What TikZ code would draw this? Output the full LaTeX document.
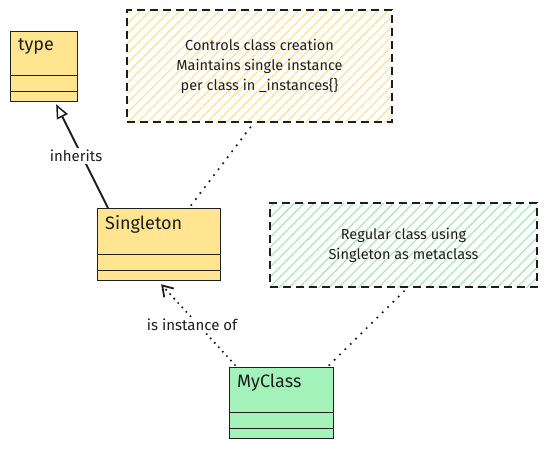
\documentclass[tikz,border=0pt]{standalone}
\usepackage{fontspec}
\setmainfont{Fira Sans}
\usepackage{xcolor}
\definecolor{cInk}{HTML}{1E1E1E}
\definecolor{cYellow}{HTML}{FFE590}
\definecolor{cGreen}{HTML}{A2F2B9}
\definecolor{cHatchY}{HTML}{FDE28A}
\definecolor{cHatchG}{HTML}{9CEBB2}
\usepackage{tikz}
\usetikzlibrary{positioning,arrows.meta,calc,patterns.meta}
\tikzset{
  node-class/.style={draw=cInk,line width=1.3pt,rectangle,anchor=north west,
    inner sep=0pt},
  node-class-core/.style={fill=cYellow},
  node-class-user/.style={fill=cGreen},
  class-name/.style={label={[anchor=north west,inner sep=0pt,label distance=0pt,
    xshift=8pt,yshift=-7pt,font=\fontsize{18}{20}\selectfont,text=cInk]north west:#1}},
  node-note/.style={draw=cInk,line width=1.6pt,dash pattern=on 8pt off 5pt,
    minimum width=265pt,align=center,text=cInk,
    font=\fontsize{14.5}{20}\selectfont},
  node-note-core/.style={pattern={Lines[angle=45,distance=7pt,line width=1.1pt]},
    pattern color=cHatchY},
  node-note-user/.style={pattern={Lines[angle=45,distance=7pt,line width=1.1pt]},
    pattern color=cHatchG},
  compartment/.style={draw=cInk,line width=1pt},
  edge-label/.style={fill=white,inner sep=2pt,text=cInk,
    font=\fontsize{15}{16}\selectfont},
  arrow-inherit/.style={-{Triangle[open,length=14pt,width=12pt,line width=1.5pt]},
    line width=2pt,draw=cInk},
  arrow-instance/.style={-{Straight Barb[length=10pt,width=13pt,line width=1.8pt]},
    line width=2.3pt,dash pattern=on 0pt off 6pt,line cap=round,draw=cInk},
  link-note/.style={line width=2.4pt,dash pattern=on 0pt off 7.5pt,line cap=round,
    draw=cInk},
}
\begin{document}
\begin{tikzpicture}[x=1pt,y=-1pt]
  \useasboundingbox[fill=white] (0,0) rectangle (547,448);
  % notes
  \node[node-note,node-note-core,minimum width=265pt,minimum height=112pt]
    (note-meta) at (259.5,66)
    {Controls class creation\\Maintains single instance\\per class in \_instances\{\}};
  \node[node-note,node-note-user,minimum width=267pt,minimum height=84pt]
    (note-user) at (403.5,245)
    {Regular class using\\Singleton as metaclass};
  % classes
  \node[node-class,node-class-core,minimum width=67pt,minimum height=70pt,
    class-name=type] (type) at (10,31) {};
  \node[node-class,node-class-core,minimum width=123pt,minimum height=72pt,
    class-name=Singleton] (singleton) at (97,208) {};
  \node[node-class,node-class-user,minimum width=104pt,minimum height=71pt,
    class-name=MyClass] (myclass) at (229,367) {};
  \foreach \c in {type,singleton,myclass} {
    \draw[compartment] ([yshift=11pt]\c.south west) -- ([yshift=11pt]\c.south east);
    \draw[compartment] ([yshift=27pt]\c.south west) -- ([yshift=27pt]\c.south east);
  }
  % relations
  \draw[arrow-inherit] ([xshift=11pt]singleton.north west) --
    node[edge-label,xshift=-6pt]{inherits} ([xshift=12pt,yshift=-2pt]type.south);
  \draw[arrow-instance] ([xshift=6pt,yshift=2pt]myclass.north west) --
    node[edge-label,xshift=-6pt]{is instance of} ([xshift=2pt,yshift=-3pt]singleton.south);
  \draw[link-note] ([xshift=-30pt,yshift=3pt]singleton.north east) --
    ([xshift=-7pt,yshift=-2pt]note-meta.south);
  \draw[link-note] ([xshift=-5pt,yshift=2pt]myclass.north east) --
    ([xshift=2pt,yshift=-2pt]note-user.south);
\end{tikzpicture}
\end{document}
